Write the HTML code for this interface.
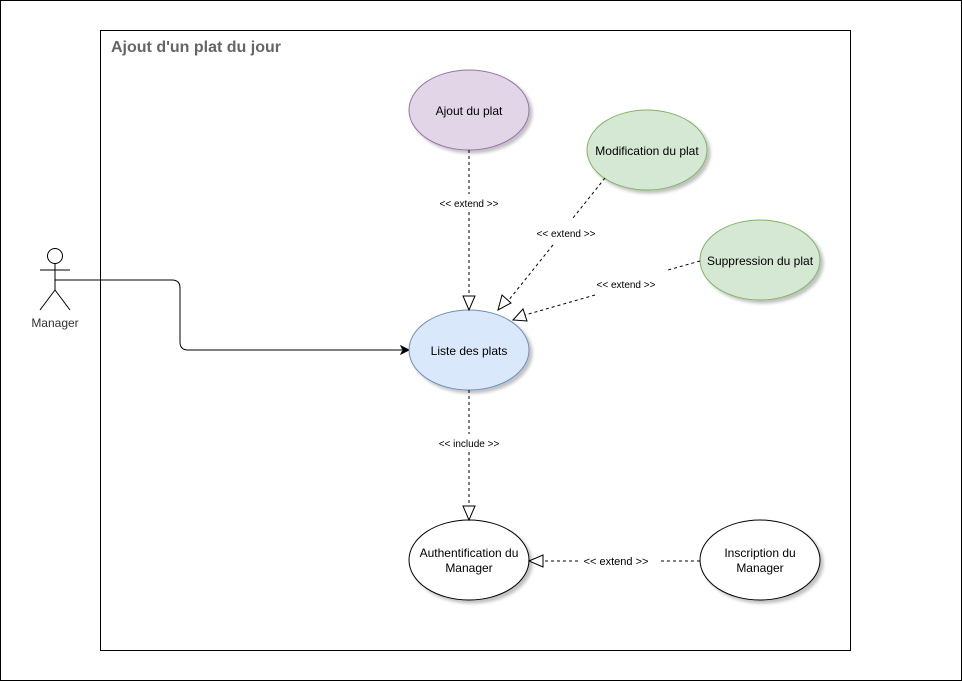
<!DOCTYPE html>
<html><head><style>body{margin:0;background:#fff}svg{display:block}</style></head><body>
<svg width="962" height="681" viewBox="0 0 962 681" xmlns="http://www.w3.org/2000/svg" font-family="Liberation Sans, sans-serif">
<defs><filter id="sh" x="-20%" y="-20%" width="150%" height="150%"><feGaussianBlur in="SourceAlpha" stdDeviation="1.5"/><feOffset dx="3" dy="3"/><feComponentTransfer><feFuncA type="linear" slope="0.25"/></feComponentTransfer><feMerge><feMergeNode/><feMergeNode in="SourceGraphic"/></feMerge></filter></defs>
<rect x="0.5" y="0.5" width="961" height="680" fill="#fff" stroke="#000"/>
<rect x="100.5" y="30.5" width="750" height="620" fill="#fff" stroke="#000"/>
<text x="111" y="52" font-size="16" font-weight="bold" fill="#666">Ajout d'un plat du jour</text>
<g stroke="#000" fill="none" stroke-width="1">
<circle cx="55" cy="256" r="7.5" fill="#fff"/>
<line x1="55" y1="263" x2="55" y2="290"/>
<line x1="40" y1="270" x2="70" y2="270"/>
<line x1="55" y1="290" x2="40" y2="310"/>
<line x1="55" y1="290" x2="70" y2="310"/>
<path d="M55 280 H172 Q180 280 180 288 V342 Q180 350 188 350 H402"/>
</g>
<path d="M409 350 L401 346 L403 350 L401 354 Z" fill="#000" stroke="#000"/>
<text x="55" y="327" font-size="12" text-anchor="middle" fill="#333">Manager</text>
<g stroke-width="1" filter="url(#sh)">
<ellipse cx="469" cy="110" rx="60" ry="40" fill="#e1d5e7" stroke="#9673a6"/>
<ellipse cx="647" cy="150" rx="60" ry="40" fill="#d5e8d4" stroke="#82b366"/>
<ellipse cx="760" cy="260" rx="60" ry="40" fill="#d5e8d4" stroke="#82b366"/>
<ellipse cx="469" cy="350" rx="60" ry="40" fill="#dae8fc" stroke="#6c8ebf"/>
<ellipse cx="469" cy="560" rx="60" ry="40" fill="#fff" stroke="#000"/>
<ellipse cx="760" cy="560" rx="60" ry="40" fill="#fff" stroke="#000"/>
</g>
<g font-size="12" text-anchor="middle" fill="#000">
<text x="469" y="115">Ajout du plat</text>
<text x="647" y="155">Modification du plat</text>
<text x="760" y="265">Suppression du plat</text>
<text x="469" y="355">Liste des plats</text>
<text x="469" y="557">Authentification du</text><text x="469" y="572">Manager</text>
<text x="760" y="557">Inscription du</text><text x="760" y="572">Manager</text>
</g>
<g stroke="#000" fill="none" stroke-dasharray="3,3">
<line x1="469" y1="150" x2="469" y2="194"/><line x1="469" y1="212" x2="469" y2="297"/>
<line x1="605" y1="178" x2="573" y2="218"/><line x1="553" y1="245" x2="508" y2="301"/>
<line x1="700" y1="261" x2="668" y2="270"/><line x1="595" y1="295" x2="525" y2="315"/>
<line x1="469" y1="390" x2="469" y2="434"/><line x1="469" y1="452" x2="469" y2="507"/>
<line x1="700" y1="561" x2="658" y2="561"/><line x1="578" y1="561" x2="543" y2="561"/>
</g>
<g stroke="#000" fill="#fff" stroke-width="1">
<path d="M469 310 L463 296 L475 296 Z"/>
<path d="M498 310 L502 295 L511 303 Z"/>
<path d="M513 320 L523 309 L527 321 Z"/>
<path d="M469 520 L463 506 L475 506 Z"/>
<path d="M529 561 L543 555 L543 567 Z"/>
</g>
<g font-size="10" text-anchor="middle" fill="#000">
<text x="469" y="207">&lt;&lt; extend &gt;&gt;</text>
<text x="566" y="237">&lt;&lt; extend &gt;&gt;</text>
<text x="626" y="288">&lt;&lt; extend &gt;&gt;</text>
<text x="469" y="447">&lt;&lt; include &gt;&gt;</text>
<text x="616" y="565" font-size="11">&lt;&lt; extend &gt;&gt;</text>
</g>
</svg>
</body></html>
